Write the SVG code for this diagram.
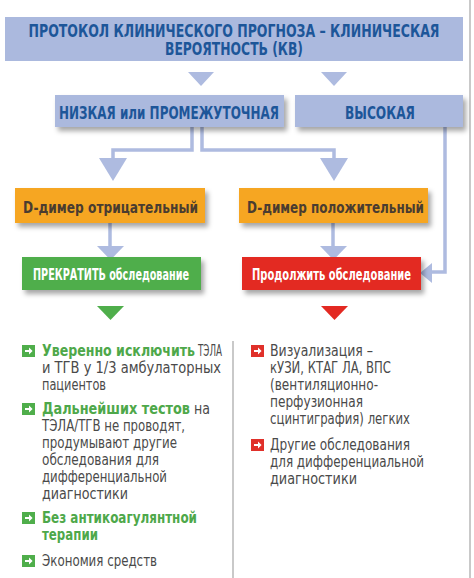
<svg xmlns="http://www.w3.org/2000/svg" xmlns:xlink="http://www.w3.org/1999/xlink" width="474" height="578" viewBox="0 0 474 578">
<defs>
<filter id="sh" x="-10%" y="-20%" width="125%" height="160%">
<feDropShadow dx="3" dy="4" stdDeviation="2.5" flood-color="#000" flood-opacity="0.35"/>
</filter>
<g id="bg"><rect width="13" height="12" fill="#4fae4b"/><path d="M3,5 h4 v-2.6 l3.6,3.6 l-3.6,3.6 v-2.6 h-4 z" fill="#fff"/></g>
<g id="br"><rect width="13" height="12" fill="#e0302a"/><path d="M3,5 h4 v-2.6 l3.6,3.6 l-3.6,3.6 v-2.6 h-4 z" fill="#fff"/></g>
</defs>
<style>
text{font-family:"DejaVu Sans Condensed","DejaVu Sans",sans-serif;font-stretch:condensed}
.hd{font-size:17px;font-weight:bold;fill:#1d5699}
.od{font-size:15.5px;font-weight:bold;fill:#4a3c30}
.wt{font-size:15.5px;font-weight:bold;fill:#fff}
.tx{font-size:16px;fill:#4a4a4a}
.gb{font-size:16px;font-weight:bold;fill:#4ea84a}
.con{fill:none;stroke:#aebbe0;stroke-width:3.5}
.ah{fill:#aebbe0}
.blue{fill:#abb9de}
</style>
<rect width="474" height="578" fill="#fff"/>
<g id="frame" stroke="#c9c9c9" stroke-width="2">
<line x1="470" y1="0" x2="470" y2="578"/>
<line x1="233" y1="341" x2="233" y2="578"/>
</g>
<g id="connectors">
<polygon class="ah" points="188,72 214,72 201,86"/>
<polygon class="ah" points="321,72 347,72 334,86"/>
<polyline class="con" points="192,127 192,150 113,150 113,160"/>
<polyline class="con" points="202,127 202,150 334,150 334,160"/>
<polygon class="ah" points="99,158 127,158 113,181"/>
<polygon class="ah" points="320,158 348,158 334,181"/>
<polyline class="con" points="445,127 445,272 428,272"/>
<polygon class="ah" points="420,273 432,263 432,283"/>
<line class="con" x1="110" y1="223" x2="110" y2="248"/>
<line class="con" x1="333" y1="223" x2="333" y2="248"/>
<polygon class="ah" points="97,246 124,246 110.5,260"/>
<polygon class="ah" points="320,246 347,246 333.5,260"/>
<polygon fill="#4fae4b" points="97,306 124,306 110.5,320"/>
<polygon fill="#e32922" points="321,306 348,306 334.5,320"/>
</g>
<g id="top">
<rect class="blue" x="5" y="17" width="458" height="44"/>
<text class="hd" x="234" y="37" text-anchor="middle" textLength="411" lengthAdjust="spacingAndGlyphs">ПРОТОКОЛ КЛИНИЧЕСКОГО ПРОГНОЗА – КЛИНИЧЕСКАЯ</text>
<text class="hd" x="234" y="55" text-anchor="middle" textLength="138" lengthAdjust="spacingAndGlyphs">ВЕРОЯТНОСТЬ (КВ)</text>
</g>
<g id="low">
<rect class="blue" x="55" y="95" width="229" height="32" filter="url(#sh)"/>
<text class="hd" x="169" y="119" text-anchor="middle" textLength="220" lengthAdjust="spacingAndGlyphs">НИЗКАЯ или ПРОМЕЖУТОЧНАЯ</text>
</g>
<g id="high">
<rect class="blue" x="295" y="95" width="168" height="32" filter="url(#sh)"/>
<text class="hd" x="380" y="119" text-anchor="middle" textLength="70" lengthAdjust="spacingAndGlyphs">ВЫСОКАЯ</text>
</g>
<g id="dneg">
<rect x="15" y="188" width="190" height="35" fill="#f6a623" filter="url(#sh)"/>
<text class="od" x="110.5" y="213" text-anchor="middle" textLength="175" lengthAdjust="spacingAndGlyphs">D-димер отрицательный</text>
</g>
<g id="dpos">
<rect x="239" y="188" width="189" height="35" fill="#f6a623" filter="url(#sh)"/>
<text class="od" x="335.5" y="213" text-anchor="middle" textLength="177" lengthAdjust="spacingAndGlyphs">D-димер положительный</text>
</g>
<g id="stop">
<rect x="22" y="257" width="179" height="33" fill="#4fae4b" filter="url(#sh)"/>
<text class="wt" x="111" y="280" text-anchor="middle" textLength="156" lengthAdjust="spacingAndGlyphs">ПРЕКРАТИТЬ обследование</text>
</g>
<g id="cont">
<rect x="242" y="257" width="179" height="33" fill="#e32922" filter="url(#sh)"/>
<text class="wt" x="331.5" y="280" text-anchor="middle" textLength="159" lengthAdjust="spacingAndGlyphs">Продолжить обследование</text>
</g>
<g id="list-left">
<use href="#bg" x="22" y="345"/>
<text class="gb" x="42" y="356" textLength="153" lengthAdjust="spacingAndGlyphs">Уверенно исключить</text>
<text class="tx" x="198" y="356" textLength="24" lengthAdjust="spacingAndGlyphs">ТЭЛА</text>
<text class="tx" x="42" y="373" textLength="179" lengthAdjust="spacingAndGlyphs">и ТГВ у 1/3 амбулаторных</text>
<text class="tx" x="42" y="390" textLength="64" lengthAdjust="spacingAndGlyphs">пациентов</text>
<use href="#bg" x="22" y="403"/>
<text class="gb" x="42" y="414" textLength="148" lengthAdjust="spacingAndGlyphs">Дальнейших тестов</text>
<text class="tx" x="194" y="414" textLength="16" lengthAdjust="spacingAndGlyphs">на</text>
<text class="tx" x="42" y="431" textLength="143" lengthAdjust="spacingAndGlyphs">ТЭЛА/ТГВ не проводят,</text>
<text class="tx" x="42" y="448" textLength="135" lengthAdjust="spacingAndGlyphs">продумывают другие</text>
<text class="tx" x="42" y="465" textLength="117" lengthAdjust="spacingAndGlyphs">обследования для</text>
<text class="tx" x="42" y="482" textLength="125" lengthAdjust="spacingAndGlyphs">дифференциальной</text>
<text class="tx" x="42" y="499" textLength="86" lengthAdjust="spacingAndGlyphs">диагностики</text>
<use href="#bg" x="22" y="512"/>
<text class="gb" x="42" y="523" textLength="155" lengthAdjust="spacingAndGlyphs">Без антикоагулянтной</text>
<text class="gb" x="42" y="540" textLength="56" lengthAdjust="spacingAndGlyphs">терапии</text>
<use href="#bg" x="22" y="555"/>
<text class="tx" x="42" y="566" textLength="115" lengthAdjust="spacingAndGlyphs">Экономия средств</text>
</g>
<g id="list-right">
<use href="#br" x="251" y="345"/>
<text class="tx" x="270" y="356" textLength="103" lengthAdjust="spacingAndGlyphs">Визуализация –</text>
<text class="tx" x="270" y="373" textLength="121" lengthAdjust="spacingAndGlyphs">кУЗИ, КТАГ ЛА, ВПС</text>
<text class="tx" x="270" y="390" textLength="108" lengthAdjust="spacingAndGlyphs">(вентиляционно-</text>
<text class="tx" x="270" y="407" textLength="93" lengthAdjust="spacingAndGlyphs">перфузионная</text>
<text class="tx" x="270" y="424" textLength="140" lengthAdjust="spacingAndGlyphs">сцинтиграфия) легких</text>
<use href="#br" x="251" y="439"/>
<text class="tx" x="270" y="450" textLength="140" lengthAdjust="spacingAndGlyphs">Другие обследования</text>
<text class="tx" x="270" y="467" textLength="154" lengthAdjust="spacingAndGlyphs">для дифференциальной</text>
<text class="tx" x="270" y="484" textLength="87" lengthAdjust="spacingAndGlyphs">диагностики</text>
</g>
</svg>
